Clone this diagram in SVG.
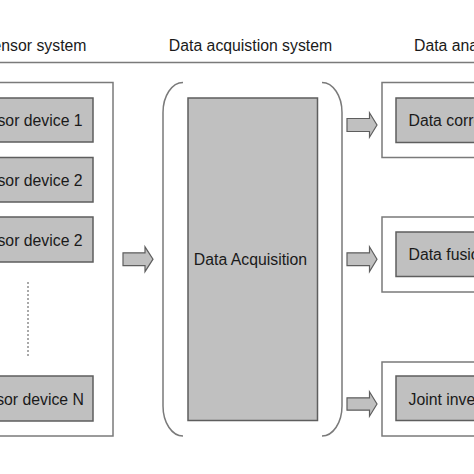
<svg xmlns="http://www.w3.org/2000/svg" width="474" height="474" viewBox="0 0 474 474">
<style>
text{font-family:"Liberation Sans",Arial,sans-serif;font-size:15.8px;fill:#1a1a1a}
.outer{fill:#fff;stroke:#7a7a7a;stroke-width:1.5}
.inner{fill:#c0c0c0;stroke:#5e5e5e;stroke-width:1.5}
.arrow{fill:#c0c0c0;stroke:#5e5e5e;stroke-width:1.2}
.mid{text-anchor:middle}
</style>
<rect width="474" height="474" fill="#fff"/>
<g id="headers">
<text x="-18" y="51">Sensor system</text>
<text x="250.5" y="51" class="mid">Data acquistion system</text>
<text x="414" y="51">Data analysis</text>
<line x1="0" y1="62.5" x2="474" y2="62.5" stroke="#7a7a7a" stroke-width="1.5"/>
</g>
<g id="sensor-system">
<rect class="outer" x="-40" y="82.5" width="153" height="353.5"/>
</g>
<g id="sensor1"><rect class="inner" x="-40" y="98" width="133" height="44"/><text x="26" y="126" class="mid">Sensor device 1</text></g>
<g id="sensor2"><rect class="inner" x="-40" y="157.5" width="133" height="44.5"/><text x="26" y="185.5" class="mid">Sensor device 2</text></g>
<g id="sensor3"><rect class="inner" x="-40" y="217" width="133" height="45"/><text x="26" y="245.5" class="mid">Sensor device 2</text></g>
<g id="sensorN"><rect class="inner" x="-40" y="376" width="133" height="45"/><text x="26" y="404.5" class="mid">Sensor device N</text></g>
<g id="acquisition-system">
<path d="M183,82.5 A20,30 0 0 0 163,112.5 L163,406 A20,30 0 0 0 183,436" fill="none" stroke="#7a7a7a" stroke-width="1.5"/>
<path d="M322,82.5 A20,30 0 0 1 342,112.5 L342,406 A20,30 0 0 1 322,436" fill="none" stroke="#7a7a7a" stroke-width="1.5"/>
</g>
<g id="data-acquisition"><rect class="inner" x="188" y="98" width="129.5" height="322.5"/><text x="250.5" y="264.5" class="mid">Data Acquisition</text></g>
<g id="analysis1"><rect class="outer" x="382" y="82.5" width="110" height="75"/><rect class="inner" x="396" y="98" width="96" height="44.5"/><text x="408.5" y="126">Data correlation</text></g>
<g id="analysis2"><rect class="outer" x="382" y="217" width="110" height="75"/><rect class="inner" x="396" y="232" width="96" height="44.5"/><text x="408.5" y="260">Data fusion</text></g>
<g id="analysis3"><rect class="outer" x="382" y="362" width="110" height="74"/><rect class="inner" x="396" y="376" width="96" height="44.5"/><text x="408.5" y="404.5">Joint inversion</text></g>
<g id="connectors">
<line x1="28" y1="282" x2="28" y2="357" stroke="#555" stroke-width="1" stroke-dasharray="2,2"/>
<path class="arrow" d="M123,252.8 L145,252.8 L145,246.8 L153,259.2 L145,271.6 L145,265.6 L123,265.6 Z"/>
<path class="arrow" d="M347,118.5 L369.5,118.5 L369.5,112.8 L377,125 L369.5,137.2 L369.5,131.5 L347,131.5 Z"/>
<path class="arrow" d="M347,252.8 L369.5,252.8 L369.5,246.8 L377,259.2 L369.5,271.6 L369.5,265.6 L347,265.6 Z"/>
<path class="arrow" d="M347,397.8 L369.5,397.8 L369.5,391.8 L377,404 L369.5,416.2 L369.5,410.2 L347,410.2 Z"/>
</g>
</svg>
